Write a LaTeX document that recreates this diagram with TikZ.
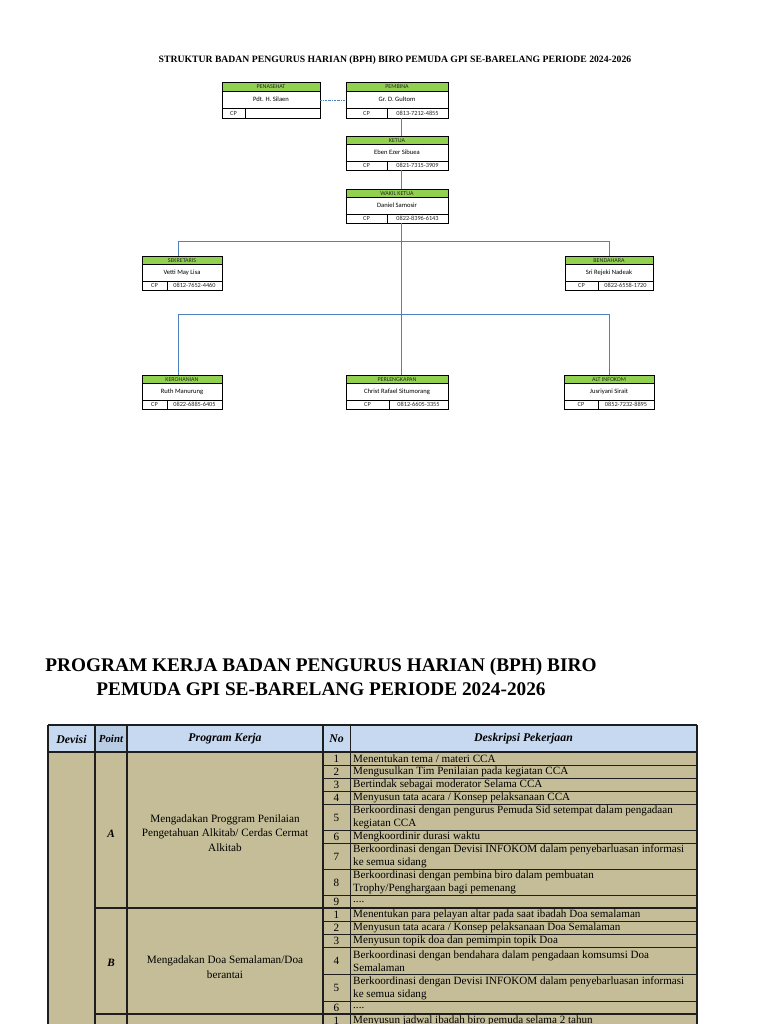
\documentclass[tikz,border=0pt]{standalone}
\usepackage{fontspec}
\setmainfont{Liberation Serif}
\newfontfamily\orgfont{Carlito}
\definecolor{hdrgreen}{HTML}{92D050}
\definecolor{hdrblue}{HTML}{C6D9F1}
\definecolor{hdrblueb}{HTML}{B8CCE4}
\definecolor{khaki}{HTML}{C4BD97}
\definecolor{linkblue}{HTML}{4F81BD}
\definecolor{orgtext}{HTML}{262626}
\definecolor{tline}{HTML}{1E1E1E}
\tikzset{
  orgframe/.style={draw=black, line width=0.6pt, inner sep=0pt, outer sep=0pt},
  orgline/.style={draw=black, line width=0.5pt},
  hdrtxt/.style={font=\orgfont\fontsize{6}{7}\selectfont, text=orgtext, inner sep=0pt},
  nametxt/.style={font=\orgfont\fontsize{6.6}{8}\selectfont, text=black, inner sep=0pt},
  cptxt/.style={font=\orgfont\fontsize{6.3}{7}\selectfont, text=orgtext, inner sep=0pt},
  link/.style={draw=linkblue, line width=0.6pt},
  major/.style={draw=tline, line width=1.3pt},
  minor/.style={draw=tline, line width=0.9pt},
  celltxt/.style={font=\fontsize{11.1}{12.8}\selectfont, text=black, inner sep=0pt, align=left},
  numtxt/.style={font=\fontsize{11.1}{12}\selectfont, text=black, inner sep=0pt},
  progtxt/.style={font=\fontsize{11.2}{14.5}\selectfont, text=black, inner sep=0pt, align=center},
  headtxt/.style={font=\bfseries\itshape\fontsize{11.8}{13}\selectfont, text=black, inner sep=0pt},
}
\newcommand\hh{9}
\newcommand\nh{17}
\newcommand\ch{10}
% name, x1, y1, x2, divider x, title, person, phone
\newcommand\orgbox[8]{%
  \pgfmathsetmacro\yA{#3+\hh}%
  \pgfmathsetmacro\yB{#3+\hh+\nh}%
  \pgfmathsetmacro\yC{#3+\hh+\nh+\ch}%
  \fill[hdrgreen] (#2,#3) rectangle (#4,\yA);
  \node[orgframe, minimum width={#4-#2}, minimum height={\yC-#3}, anchor=north west] (#1) at (#2,#3) {};
  \draw[orgline] (#2,\yA) -- (#4,\yA);
  \draw[orgline] (#2,\yB) -- (#4,\yB);
  \draw[orgline] (#5,\yB) -- (#5,\yC);
  \node[hdrtxt] (#1-t) at ({(#2+#4)/2},{(#3+\yA)/2+0.3}) {#6};
  \node[nametxt] (#1-n) at ({(#2+#4)/2},{(\yA+\yB)/2}) {#7};
  \node[cptxt] (#1-c) at ({(#2+#5)/2},{(\yB+\yC)/2+0.3}) {CP};
  \node[cptxt] (#1-p) at ({(#5+#4)/2},{(\yB+\yC)/2+0.3}) {#8};
}
% name, y1, y2, number, text
\newcommand\drow[5]{%
  \draw[minor] (323,#3) -- (697,#3);
  \node[numtxt] (#1-no) at (336.5,{(#2+#3)/2+0.5}) {#4};
  \node[celltxt, anchor=west] (#1-d) at (353,{(#2+#3)/2+0.5}) {#5};
}
\begin{document}
\begin{tikzpicture}[x=1pt,y=-1pt]
\useasboundingbox (0,0) rectangle (768,1024);
\fill[white] (0,0) rectangle (768,1024);
\clip (0,0) rectangle (768,1024);

% ---------- title ----------
\node[font=\bfseries\fontsize{9.7}{11}\selectfont, inner sep=0pt] (title1) at (395,60)
  {STRUKTUR BADAN PENGURUS HARIAN (BPH) BIRO PEMUDA GPI SE-BARELANG PERIODE 2024-2026};

% ---------- org chart ----------
\coordinate (spine) at (401,0);
\coordinate (h1) at (0,241);
\coordinate (h2) at (0,314);
\coordinate (lx) at (178,0);
\coordinate (rx) at (609,0);

\orgbox{pen}{222}{82}{320}{245}{PENASEHAT}{Pdt. H. Silaen}{}
\orgbox{pem}{346}{82}{448}{387}{PEMBINA}{Gr. D. Gultom}{0813-7212-4855}
\renewcommand\hh{8}\renewcommand\ch{9}
\orgbox{ket}{346}{136}{448}{387}{KETUA}{Eben Ezer Sibuea}{0821-7315-3909}
\orgbox{wak}{346}{189}{448}{387}{WAKIL KETUA}{Daniel Samosir}{0822-8396-6143}
\orgbox{sek}{142}{256}{222}{167}{SEKRETARIS}{Vetti May Lisa}{0812-7652-4460}
\orgbox{ben}{565}{256}{653}{598}{BENDAHARA}{Sri Rejeki Nadeak}{0822-6558-1720}
\orgbox{ker}{142}{375}{222}{167}{KEROHANIAN}{Ruth Manurung}{0822-6885-6405}
\orgbox{per}{346}{375}{448}{389}{PERLENGKAPAN}{Christ Rafael Situmorang}{0812-6605-3355}
\orgbox{alt}{564}{375}{654}{598}{ALT INFOKOM}{Jusriyani Sirait}{0852-7232-8895}

\draw[link, dash pattern=on 2pt off 1pt on 0.6pt off 1pt] (pen.east) -- (pem.west);
\draw[link] (pem.south -| spine) -- (ket.north -| spine);
\draw[link] (ket.south -| spine) -- (wak.north -| spine);
\draw[link] (wak.south -| spine) -- (per.north -| spine);
\draw[link] (lx |- h1) -- (rx |- h1);
\draw[link] (lx |- h1) -- (sek.north -| lx);
\draw[link] (rx |- h1) -- (ben.north -| rx);
\draw[link] (lx |- h2) -- (rx |- h2);
\draw[link] (lx |- h2) -- (ker.north -| lx);
\draw[link] (rx |- h2) -- (alt.north -| rx);

% ---------- second title ----------
\node[font=\bfseries\fontsize{19.3}{24}\selectfont, inner sep=0pt, align=center] (title2) at (321,677)
  {PROGRAM KERJA BADAN PENGURUS HARIAN (BPH) BIRO\\PEMUDA GPI SE-BARELANG PERIODE 2024-2026};

% ---------- table ----------
\fill[hdrblue] (48,725) rectangle (697,752);
\fill[hdrblueb] (95,725) rectangle (127,752);
\fill[khaki] (48,752) rectangle (697,1030);

\node[headtxt] (hdev) at (71.5,739) {Devisi};
\node[headtxt, font=\bfseries\itshape\fontsize{10.8}{12}\selectfont] (hpoi) at (111,739) {Point};
\node[headtxt] (hpro) at (225,739) {Program Kerja};
\node[headtxt] (hno) at (336.5,739) {No};
\node[headtxt] (hdes) at (523.5,739) {Deskripsi Pekerjaan};

% section A
\drow{a1}{752}{765}{1}{Menentukan tema / materi CCA}
\drow{a2}{765}{778}{2}{Mengusulkan Tim Penilaian pada kegiatan CCA}
\drow{a3}{778}{791}{3}{Bertindak sebagai moderator Selama CCA}
\drow{a4}{791}{804}{4}{Menyusun tata acara / Konsep pelaksanaan CCA}
\drow{a5}{804}{830}{5}{Berkoordinasi dengan pengurus Pemuda Sid setempat dalam pengadaan\\kegiatan CCA}
\drow{a6}{830}{843}{6}{Mengkoordinir durasi waktu}
\drow{a7}{843}{869}{7}{Berkoordinasi dengan Devisi INFOKOM dalam penyebarluasan informasi\\ke semua sidang}
\drow{a8}{869}{895}{8}{Berkoordinasi dengan pembina biro dalam pembuatan\\Trophy/Penghargaan bagi pemenang}
\drow{a9}{895}{908}{9}{....}
% section B
\drow{b1}{908}{921}{1}{Menentukan para pelayan altar pada saat ibadah Doa semalaman}
\drow{b2}{921}{934}{2}{Menyusun tata acara / Konsep pelaksanaan Doa Semalaman}
\drow{b3}{934}{947}{3}{Menyusun topik doa dan pemimpin topik Doa}
\drow{b4}{947}{974}{4}{Berkoordinasi dengan bendahara dalam pengadaan komsumsi Doa\\Semalaman}
\drow{b5}{974}{1001}{5}{Berkoordinasi dengan Devisi INFOKOM dalam penyebarluasan informasi\\ke semua sidang}
\drow{b6}{1001}{1014}{6}{....}
% section C
\drow{c1}{1014}{1027}{1}{Menyusun jadwal ibadah biro pemuda selama 2 tahun}

\node[headtxt, font=\bfseries\itshape\fontsize{11.2}{12}\selectfont] (pa) at (111,834) {A};
\node[headtxt, font=\bfseries\itshape\fontsize{11.2}{12}\selectfont] (pb) at (111,963) {B};
\node[progtxt] (proga) at (225,833)
  {Mengadakan Proggram Penilaian\\Pengetahuan Alkitab/ Cerdas Cermat\\Alkitab};
\node[progtxt] (progb) at (225,967)
  {Mengadakan Doa Semalaman/Doa\\berantai};

% grid
\draw[major] (95,908) -- (697,908);
\draw[major] (95,1014) -- (697,1014);
\draw[major] (48,725) -- (697,725);
\draw[major] (48,752) -- (697,752);
\draw[major] (48,725) -- (48,1030);
\draw[major] (95,725) -- (95,1030);
\draw[major] (127,725) -- (127,1030);
\draw[major] (323,725) -- (323,1030);
\draw[minor] (350,725) -- (350,1030);
\draw[major] (697,725) -- (697,1030);
\end{tikzpicture}
\end{document}
